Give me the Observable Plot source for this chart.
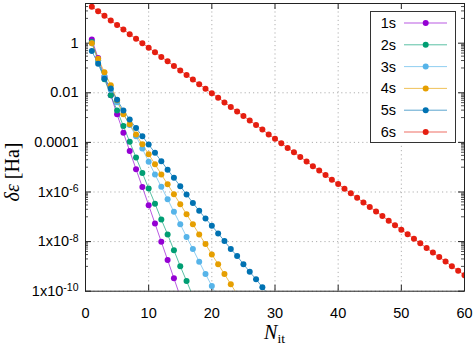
<!DOCTYPE html>
<html><head><meta charset="utf-8">
<script src="https://cdn.jsdelivr.net/npm/d3@7"></script>
<script src="https://cdn.jsdelivr.net/npm/@observablehq/plot@0.6"></script>
<style>
html,body{margin:0;padding:0;background:#fff;}
#wrap{width:474px;height:345px;}
</style></head><body><div id="wrap"></div>
<script>
// ---- data ----
const seriesNames = ["1s", "2s", "3s", "4s", "5s", "6s"];
const seriesColors = ["#9400d3", "#009e73", "#56b4e9", "#e69f00", "#0072b2", "#e51e10"];
// energy error per iteration, N_it = 1, 2, 3, ...
const err1s = [1.41, 2.51e-1, 4.47e-2, 7.94e-3, 1.35e-3, 2.45e-4, 4.47e-5, 8.32e-6, 1.58e-6, 2.95e-7, 5.37e-8, 9.77e-9, 1.82e-9, 3.31e-10, 6.03e-11];
const err2s = [1.12, 2.0e-1, 3.55e-2, 7.94e-3, 1.95e-3, 4.57e-4, 1.05e-4, 2.45e-5, 5.89e-6, 1.38e-6, 3.39e-7, 7.76e-8, 1.95e-8, 4.47e-9, 1.02e-9, 2.57e-10, 6.31e-11];
const err3s = [1.0, 2.0e-1, 4.68e-2, 1.32e-2, 4.17e-3, 1.41e-3, 5.01e-4, 1.78e-4, 5.62e-5, 1.66e-5, 5.13e-6, 1.62e-6, 5.13e-7, 1.58e-7, 5.01e-8, 1.55e-8, 5.01e-9, 1.55e-9, 4.9e-10, 1.62e-10, 5.01e-11];
const err4s = [1.0, 2.34e-1, 6.76e-2, 2.0e-2, 5.01e-3, 1.35e-3, 5.37e-4, 2.09e-4, 8.32e-5, 3.31e-5, 1.32e-5, 5.13e-6, 2.04e-6, 8.13e-7, 3.24e-7, 1.26e-7, 5.01e-8, 1.95e-8, 7.94e-9, 3.02e-9, 1.23e-9, 4.9e-10, 1.91e-10, 7.59e-11];
const err5s = [4.79e-1, 1.48e-1, 3.72e-2, 1.48e-2, 5.25e-3, 1.95e-3, 8.32e-4, 3.80e-4, 1.78e-4, 8.13e-5, 3.80e-5, 1.74e-5, 7.94e-6, 3.72e-6, 1.70e-6, 7.94e-7, 3.63e-7, 1.74e-7, 8.51e-8, 4.37e-8, 2.14e-8, 1.05e-8, 5.01e-9, 2.63e-9, 1.23e-9, 6.03e-10, 3.02e-10, 1.45e-10, 7.08e-11];
const err6s = [29.5, 19.4, 12.7, 8.3, 5.4, 3.6, 2.3, 1.5, 1.0, 0.66, 0.43, 0.28, 0.185, 0.121, 0.080, 0.052, 0.034, 0.022, 0.0147, 0.0096, 0.0063, 0.0041, 0.0027, 0.00177, 0.00116, 7.6e-4, 5.0e-4, 3.3e-4, 2.1e-4, 1.4e-4, 9.2e-5, 6.0e-5, 4.0e-5, 2.6e-5, 1.7e-5, 1.1e-5, 7.3e-6, 4.8e-6, 3.1e-6, 2.1e-6, 1.35e-6, 8.8e-7, 5.8e-7, 3.8e-7, 2.5e-7, 1.63e-7, 1.07e-7, 7.0e-8, 4.6e-8, 3.0e-8, 2.0e-8, 1.3e-8, 8.5e-9, 5.5e-9, 3.6e-9, 2.4e-9, 1.56e-9, 1.02e-9, 6.7e-10, 4.4e-10];
const xTicks = [0, 10, 20, 30, 40, 50, 60];
const yTicks = [1, 1e-2, 1e-4, 1e-6, 1e-8, 1e-10];
const yTickLabels = ["1", "0.01", "0.0001", "1x10^-6", "1x10^-8", "1x10^-10"];
const xLabel = ["N", "it"];
const yLabel = ["δε", "[Ha]"];

// ---- build table ----
const allSeries = [err1s, err2s, err3s, err4s, err5s, err6s];
const rows = [];
allSeries.forEach((arr, s) => arr.forEach((v, i) => rows.push({series: seriesNames[s], n: i + 1, v})));
const colorOf = Object.fromEntries(seriesNames.map((n, i) => [n, seriesColors[i]]));

// minor log ticks (gnuplot style subdivisions)
const yMinor = [];
for (let k = -9; k <= 1; k += 2) for (let m = 1; m <= 9; m++) { const v = m * Math.pow(10, k); if (v < 39) yMinor.push(v); }

const W = 474, H = 345, mL = 85, mR = 10, mT = 3, mB = 54.3;
const pw = W - mL - mR, ph = H - mT - mB;
const axisColor = "#222";

const chart = Plot.plot({
  width: W, height: H,
  marginLeft: mL, marginRight: mR, marginTop: mT, marginBottom: mB,
  style: {fontFamily: "'Liberation Sans', Arial, sans-serif", fontSize: "14.5px", background: "white", color: "#000", overflow: "visible"},
  x: {domain: [0, 60], ticks: xTicks, tickSize: 0, tickPadding: 17, label: null},
  y: {type: "log", domain: [1e-10, 39.8], ticks: yTicks, tickSize: 0, tickPadding: 7, label: null,
      tickFormat: d => yTickLabels[yTicks.indexOf(d)]},
  marks: [
    Plot.ruleX(xTicks.slice(1, -1), {x: d => d, stroke: "#b0b0b0", strokeDasharray: "1.2,3"}),
    Plot.ruleY(yTicks.slice(1), {y: d => d, stroke: "#b0b0b0", strokeDasharray: "1.2,3"}),
    // inward ticks
    Plot.ruleX(xTicks, {x: d => d, stroke: axisColor, insetTop: ph - 6}),
    Plot.ruleX(xTicks, {x: d => d, stroke: axisColor, insetBottom: ph - 6}),
    Plot.ruleY(yTicks, {y: d => d, stroke: axisColor, insetRight: pw - 6}),
    Plot.ruleY(yTicks, {y: d => d, stroke: axisColor, insetLeft: pw - 6}),
    Plot.ruleY(yMinor, {y: d => d, stroke: axisColor, strokeWidth: 0.8, insetRight: pw - 3}),
    Plot.ruleY(yMinor, {y: d => d, stroke: axisColor, strokeWidth: 0.8, insetLeft: pw - 3}),
    Plot.line(rows, {x: "n", y: "v", z: "series", stroke: d => colorOf[d.series], strokeWidth: 1, strokeOpacity: 0.65, clip: true}),
    Plot.dot(rows, {x: "n", y: "v", fill: d => colorOf[d.series], r: 3, clip: true}),
    Plot.frame({stroke: axisColor, strokeWidth: 1})
  ]
});
document.getElementById("wrap").appendChild(chart);

const svg = d3.select(chart);
// superscripts in y tick labels
svg.selectAll("text").each(function() {
  const t = this.textContent;
  if (t.includes("^")) {
    const [base, exp] = t.split("^");
    const sel = d3.select(this);
    sel.text("");
    sel.append("tspan").text(base);
    sel.append("tspan").attr("dy", "-0.45em").attr("font-size", "10.5px").text(exp);
  }
});

// axis titles
const yl = svg.append("text")
  .attr("transform", "translate(19,172) rotate(-90)")
  .attr("text-anchor", "middle")
  .attr("font-family", "'Liberation Serif', 'DejaVu Serif', serif")
  .attr("font-size", 20);
yl.append("tspan").attr("font-style", "italic").text(yLabel[0]);
yl.append("tspan").text(" " + yLabel[1]);

const xl = svg.append("text")
  .attr("x", mL + pw / 2).attr("y", 339)
  .attr("text-anchor", "middle")
  .attr("font-family", "'Liberation Serif', 'DejaVu Serif', serif")
  .attr("font-size", 20);
xl.append("tspan").attr("font-style", "italic").text(xLabel[0]);
xl.append("tspan").attr("dy", 4).attr("font-size", 13.5).text(xLabel[1]);

// legend (inside the plot, top right)
const lg = svg.append("g");
lg.append("rect").attr("x", 370.5).attr("y", 11.5).attr("width", 85).attr("height", 131)
  .attr("fill", "white").attr("stroke", "#333");
seriesNames.forEach((name, i) => {
  const cy = 23 + i * 21.8;
  lg.append("text").attr("x", 396).attr("y", cy + 5).attr("text-anchor", "end")
    .attr("font-size", 14.5).attr("font-family", "'Liberation Sans', Arial, sans-serif").text(name);
  lg.append("line").attr("x1", 404).attr("x2", 447).attr("y1", cy).attr("y2", cy)
    .attr("stroke", seriesColors[i]).attr("stroke-opacity", 0.65);
  lg.append("circle").attr("cx", 425.7).attr("cy", cy).attr("r", 3).attr("fill", seriesColors[i]);
});
</script></body></html>
